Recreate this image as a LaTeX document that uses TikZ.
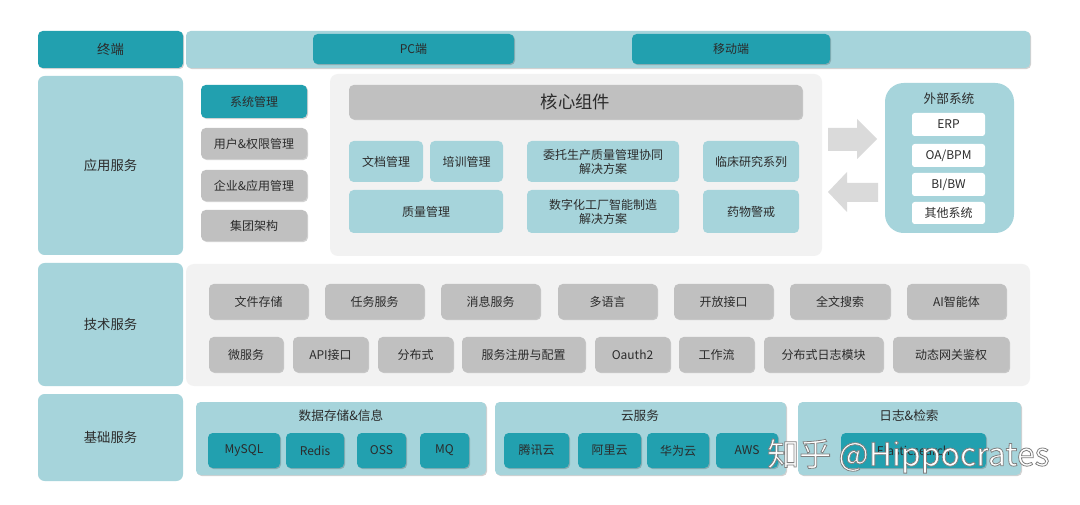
\documentclass[tikz,border=0pt]{standalone}
\usepackage{fontspec}
\setmainfont{Noto Sans CJK SC}
\usetikzlibrary{shadows}
\definecolor{tealD}{HTML}{22A0AF}
\definecolor{tealL}{HTML}{A6D4DB}
\definecolor{grayB}{HTML}{C0C0C0}
\definecolor{panelG}{HTML}{F2F2F2}
\definecolor{arrowG}{HTML}{DADADA}
\definecolor{txt}{HTML}{2B2B2B}
\newcommand\bx[7]{%
  \pgfmathsetmacro\bw{(#5-#3)*0.75}%
  \pgfmathsetmacro\bh{(#6-#4)*0.75}%
  \node[#2, minimum width=\bw pt, minimum height=\bh pt] (#1) at ({(#3+#5)/2},{(#4+#6)/2}) {#7};}
\tikzset{
  base/.style={inner sep=0pt, outer sep=0pt, align=center, text=txt, rounded corners=3.5pt, font=\fontsize{9}{10.5}\selectfont},
  sh/.style={drop shadow={shadow xshift=0.8pt, shadow yshift=-0.8pt, opacity=0.18, fill=black}},
  darkbox/.style={base, sh, fill=tealD},
  lightbox/.style={base, fill=tealL},
  lightsh/.style={base, sh, fill=tealL},
  graybox/.style={base, sh, fill=grayB},
  panel/.style={base, fill=panelG, rounded corners=6pt},
  whitebox/.style={base, fill=white, rounded corners=2pt},
  sidebox/.style={base, fill=tealL, rounded corners=5pt, font=\fontsize{10}{12}\selectfont},
  title/.style={inner sep=0pt, text=txt, font=\fontsize{9.5}{11}\selectfont},
  arr/.style={fill=arrowG, draw=none},
}
\begin{document}
\begin{tikzpicture}[x=0.75pt, y=-0.75pt]
\useasboundingbox[fill=white] (0,0) rectangle (1080,505);

% ---- terminal row
\bx{term}{darkbox, font=\fontsize{10}{12}\selectfont}{38}{31}{183}{68}{终端}
\bx{topbar}{lightsh}{186}{31}{1030}{68}{}
\bx{pc}{darkbox}{313}{34}{514}{64}{PC端}
\bx{mobile}{darkbox}{632}{34}{830}{64}{移动端}

% ---- application services
\bx{app}{sidebox}{38}{76}{183}{255}{应用服务}
\bx{sysm}{darkbox}{201}{85}{307}{118}{系统管理}
\bx{userm}{graybox}{201}{128}{307}{159}{用户\&权限管理}
\bx{entm}{graybox}{201}{170}{307}{201}{企业\&应用管理}
\bx{group}{graybox}{201}{210}{307}{241}{集团架构}

\bx{core}{panel}{330}{74}{822}{256}{}
\bx{coret}{graybox, font=\fontsize{13}{15}\selectfont}{349}{85}{802}{119}{核心组件}
\bx{doc}{lightbox}{349}{141}{423}{182}{文档管理}
\bx{train}{lightbox}{430}{141}{503}{182}{培训管理}
\bx{qual}{lightbox}{349}{190}{503}{233}{质量管理}
\bx{cmo}{lightbox}{527}{141}{679}{182}{委托生产质量管理协同\\解决方案}
\bx{dfac}{lightbox}{527}{190}{679}{233}{数字化工厂智能制造\\解决方案}
\bx{clin}{lightbox}{703}{141}{799}{182}{临床研究系列}
\bx{pv}{lightbox}{703}{190}{799}{233}{药物警戒}

\bx{ext}{lightbox, rounded corners=14pt}{885}{83}{1014}{233}{}
\node[title] (extt) at (949,99) {外部系统};
\bx{erp}{whitebox}{912}{113}{985}{136}{ERP}
\bx{oa}{whitebox}{912}{144}{985}{167}{OA/BPM}
\bx{bi}{whitebox}{912}{173}{985}{196}{BI/BW}
\bx{other}{whitebox}{912}{202}{985}{224}{其他系统}

% block arrows
\fill[arr] (828,128) -- (857,128) -- (857,119) -- (877,139) -- (857,159) -- (857,151) -- (828,151) -- cycle;
\fill[arr] (878,183) -- (847,183) -- (847,172) -- (828,192) -- (847,212) -- (847,202) -- (878,202) -- cycle;

% ---- technical services
\bx{tech}{sidebox}{38}{263}{183}{386}{技术服务}
\bx{techp}{panel}{186}{264}{1030}{386}{}
\bx{t1}{graybox}{209}{284}{308}{319}{文件存储}
\bx{t2}{graybox}{325}{284}{424}{319}{任务服务}
\bx{t3}{graybox}{441}{284}{540}{319}{消息服务}
\bx{t4}{graybox}{558}{284}{657}{319}{多语言}
\bx{t5}{graybox}{674}{284}{773}{319}{开放接口}
\bx{t6}{graybox}{790}{284}{890}{319}{全文搜索}
\bx{t7}{graybox}{907}{284}{1006}{319}{AI智能体}
\bx{u1}{graybox}{209}{337}{283}{372}{微服务}
\bx{u2}{graybox}{293}{337}{368}{372}{API接口}
\bx{u3}{graybox}{378}{337}{453}{372}{分布式}
\bx{u4}{graybox}{462}{337}{585}{372}{服务注册与配置}
\bx{u5}{graybox}{595}{337}{670}{372}{Oauth2}
\bx{u6}{graybox}{679}{337}{754}{372}{工作流}
\bx{u7}{graybox}{764}{337}{883}{372}{分布式日志模块}
\bx{u8}{graybox}{893}{337}{1009}{372}{动态网关鉴权}

% ---- base services
\bx{basis}{sidebox}{38}{394}{183}{481}{基础服务}
\bx{datap}{lightsh}{196}{402}{486}{475}{}
\node[title] (datat) at (341,416) {数据存储\&信息};
\bx{mysql}{darkbox}{208}{433}{280}{468}{MySQL}
\bx{redis}{darkbox}{286}{433}{344}{468}{Redis}
\bx{oss}{darkbox}{357}{433}{406}{468}{OSS}
\bx{mq}{darkbox}{420}{433}{469}{468}{MQ}

\bx{cloudp}{lightsh}{495}{402}{786}{475}{}
\node[title] (cloudt) at (640,416) {云服务};
\bx{tx}{darkbox}{504}{433}{569}{468}{腾讯云}
\bx{ali}{darkbox}{578}{433}{641}{468}{阿里云}
\bx{hw}{darkbox}{647}{433}{709}{468}{华为云}
\bx{aws}{darkbox}{716}{433}{778}{468}{AWS}

\bx{logp}{lightsh}{798}{402}{1021}{475}{}
\node[title] (logt) at (909,416) {日志\&检索};
\bx{es}{darkbox}{841}{433}{986}{468}{Elasticsearch}

% watermark (white text with a thin grey outline)
\node[anchor=west, inner sep=0pt, text=white, font=\fontsize{24}{28}\selectfont] (wm) at (767,456)
  {\special{pdf:literal direct 2 Tr 0.6 w 0.5 G}知乎 @Hippocrates\special{pdf:literal direct 0 Tr 0 G}};
\end{tikzpicture}
\end{document}
